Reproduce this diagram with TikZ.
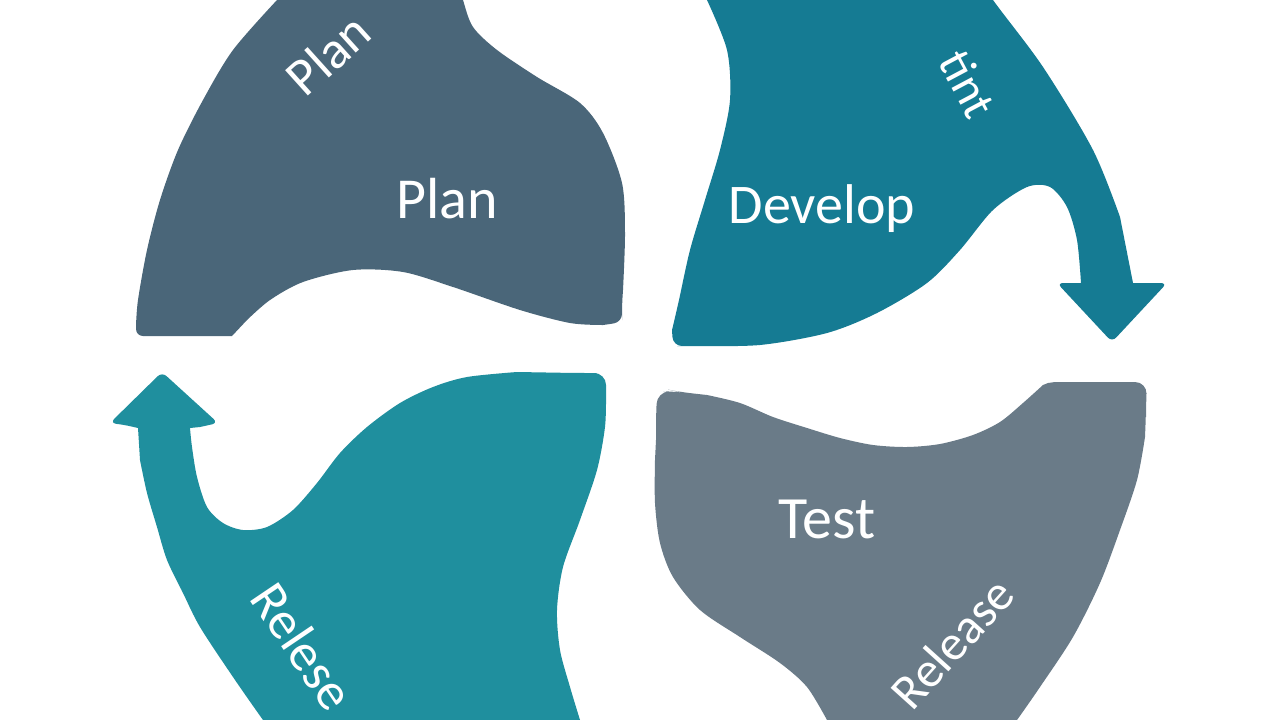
\documentclass[tikz,border=0pt]{standalone}
\usepackage{fontspec}
\setmainfont{Carlito}
\definecolor{cTL}{HTML}{4A6679}
\definecolor{cTR}{HTML}{157B93}
\definecolor{cBL}{HTML}{1F8F9E}
\definecolor{cBR}{HTML}{6A7B88}
\begin{document}
\begin{tikzpicture}[x=1pt,y=-1pt,
  lbl/.style={text=white, inner sep=0pt}]
\useasboundingbox (0,0) rectangle (1280,720);
\fill[white] (0,0) rectangle (1280,720);
\clip (0,0) rectangle (1280,720);

% top-left blob (Plan)
\fill[cTL] (300,-30) -- plot[smooth] coordinates {(277,0) (233,50) (203,100) (178,150) (160,200) (147,250) (138,300) (136,326)}
  -- (136,329) [rounded corners=7pt] -- (136,336) -- (150,336) -- (160,336) [sharp corners] -- (232,336)
  -- plot[smooth] coordinates {(247,320) (270,300) (303,282) (353,270) (403,272) (453,287) (520,310) (570,323) (603,325)}
  -- (610,324) [rounded corners=8pt] -- (622,322) -- (622,312) -- (622,305) [sharp corners]
  -- plot[smooth] coordinates {(623,290) (625,233) (622,183) (603,133) (580,103) (537,77) (497,50) (473,27) (463,0) (455,-30)}
  -- cycle;

% top-right blob (Develop) with arrow
\fill[cTR] (700,-30) -- plot[smooth] coordinates {(707,0) (727,50) (730,100) (720,150) (705,200) (690,250) (679,300) (673,326)}
  -- (672,330) [rounded corners=9pt] -- (673,346) -- (686,346) -- (688,346) [sharp corners]
  -- plot[smooth] coordinates {(693,346) (760,345) (827,333) (877,313) (927,283) (960,250) (993,210) (1027,187) (1050,187) (1067,207) (1077,240) (1081,283)}
  -- (1072,283) [rounded corners=6pt] -- (1057,283) -- (1112,342) -- (1167,283) -- (1150,283) [sharp corners] -- (1133,283)
  -- plot[smooth] coordinates {(1120,217) (1093,150) (1043,67) (993,0) (975,-30)}
  -- cycle;

% bottom-left blob (Relese) with arrow
\fill[cBL] (138,428)
  -- plot[smooth] coordinates {(140,460) (147,493) (157,527) (167,560) (183,593) (200,627) (233,677) (263,720) (285,750)}
  -- (585,750)
  -- plot[smooth] coordinates {(580,720) (570,687) (560,650) (557,610) (563,567) (580,520) (597,470) (605,427) (606,395)}
  -- (606,390) [rounded corners=12pt] -- (606,373) -- (585,373) -- (575,373) [sharp corners]
  -- plot[smooth] coordinates {(517,372) (467,377) (433,387) (400,403) (367,427) (340,453) (317,483) (293,510) (267,527) (243,530) (223,523) (207,507) (197,477) (192,447) (190,428)}
  -- (200,427) [rounded corners=6pt] -- (218,423) -- (162,372) -- (110,423) -- (125,425) [sharp corners] -- cycle;

% bottom-right blob (Test)
\fill[cBR] (656,440) -- (656,420) [rounded corners=12pt] -- (657,392) -- (675,391) -- (680,392) [sharp corners]
  -- plot[smooth] coordinates {(707,395) (740,403) (773,417) (807,428) (840,438) (873,445) (907,447) (940,444) (973,435) (1000,422) (1023,403) (1043,385)}
  -- (1048,383) -- (1055,382) [rounded corners=12pt] -- (1147,382) -- (1146,405) -- (1146,412) [sharp corners]
  -- plot[smooth] coordinates {(1145,437) (1137,480) (1120,530) (1100,583) (1073,637) (1040,687) (1017,720) (995,750)}
  -- (835,750)
  -- plot[smooth] coordinates {(827,720) (807,687) (780,663) (740,637) (700,610) (673,577) (660,543) (655,503) (655,460)}
  -- cycle;

% labels
\node[lbl, anchor=base, font=\fontsize{58}{60}\selectfont] (plan) at (447,218) {Plan};
\node[lbl, rotate=42, font=\fontsize{53}{55}\selectfont] (planr) at (328,54) {Plan};
\node[lbl, anchor=base, font=\fontsize{56}{58}\selectfont] (develop) at (822,223) {Develop};
\node[lbl, rotate=-62, font=\fontsize{48}{50}\selectfont] (tint) at (968,84) {tint};
\node[lbl, anchor=base, font=\fontsize{60}{62}\selectfont] (test) at (827,538) {Test};
\node[lbl, rotate=48, font=\fontsize{50}{52}\selectfont] (release) at (952,643) {Release};
\node[lbl, rotate=-56, font=\fontsize{53}{55}\selectfont] (relese) at (303,646) {Relese};
\end{tikzpicture}
\end{document}
